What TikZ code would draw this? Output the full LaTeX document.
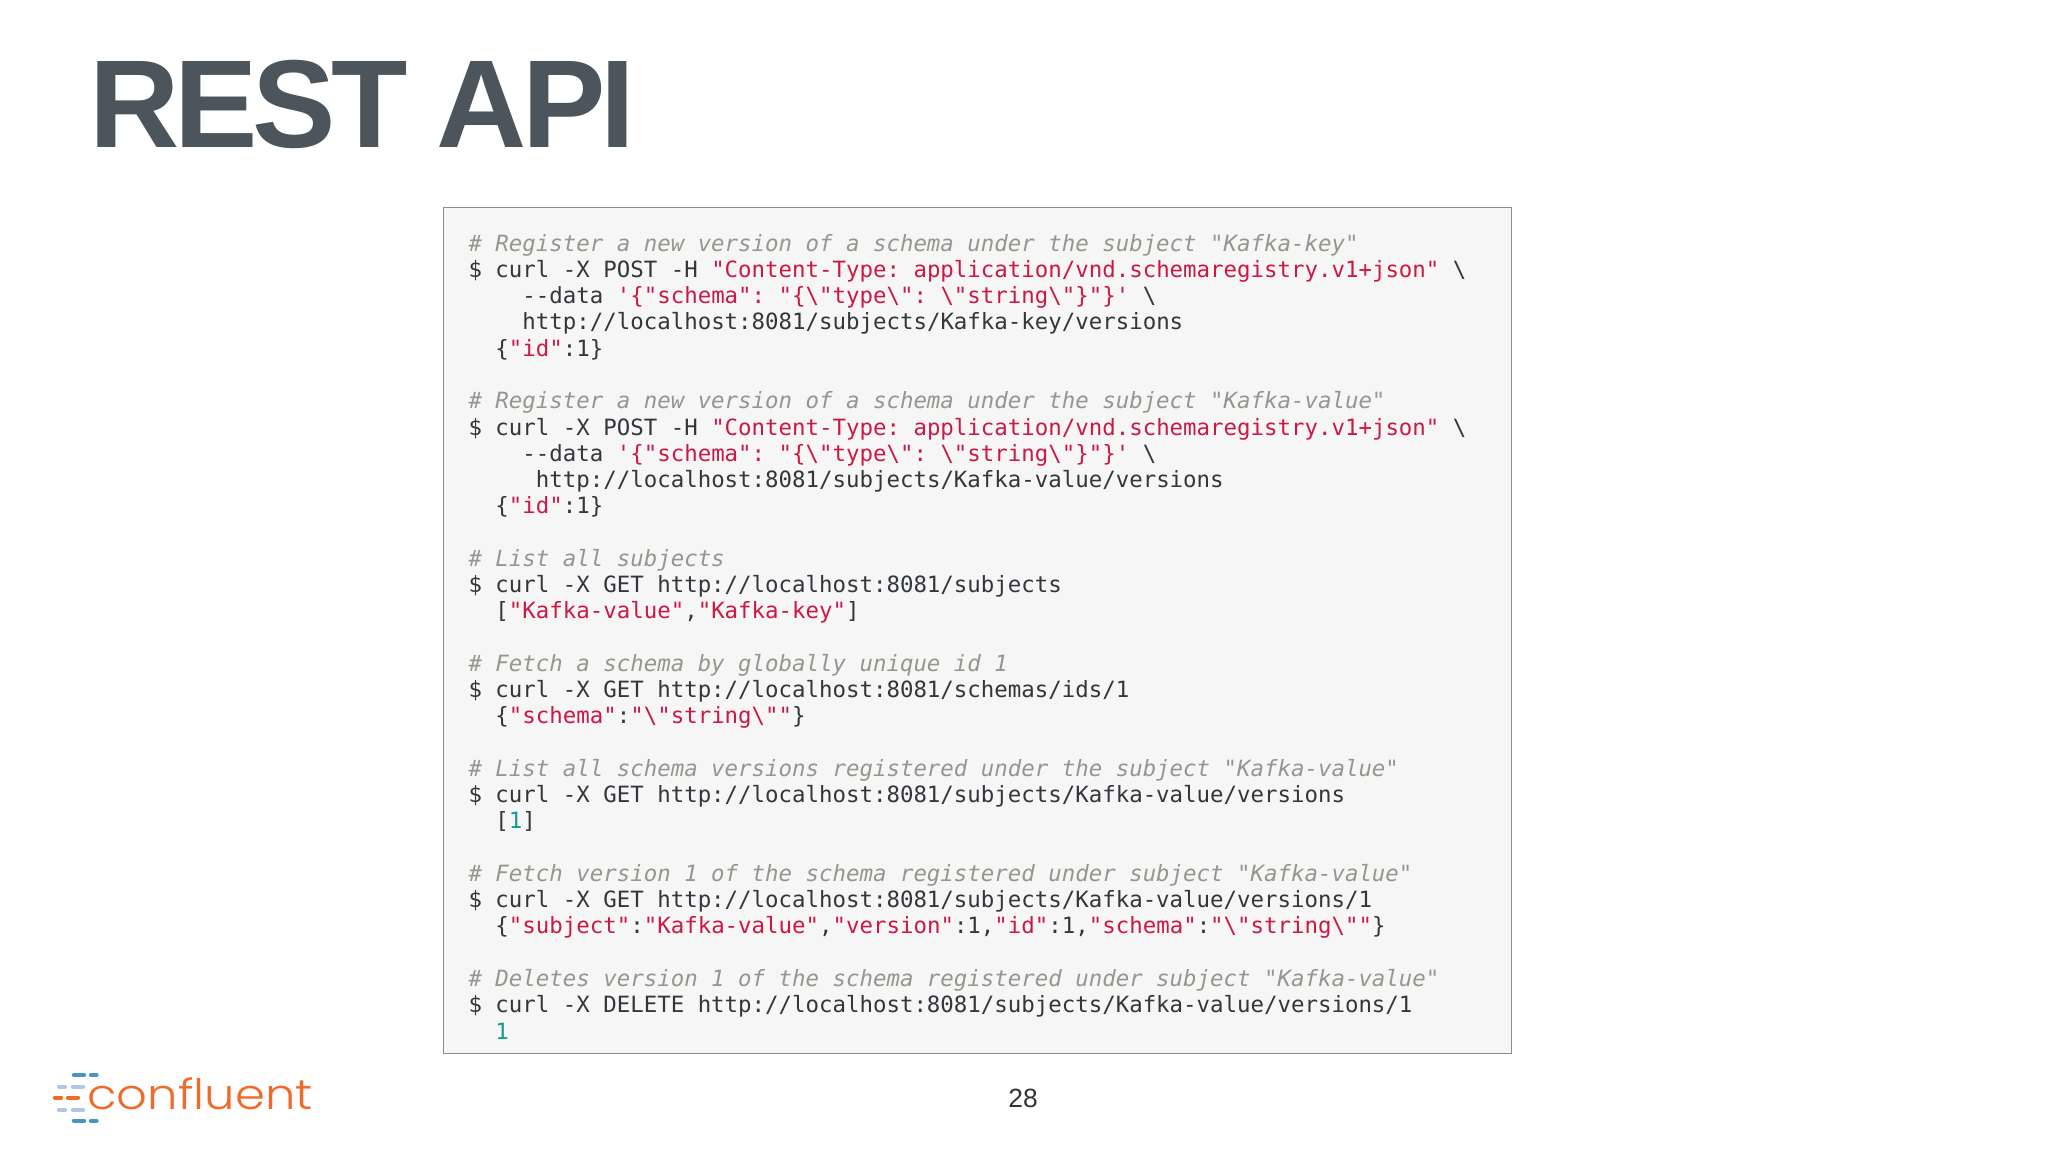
\documentclass[tikz,border=0pt]{standalone}
\usepackage{fontspec}
\usepackage{graphicx}
\setmainfont{Liberation Sans}
\newfontfamily\codefont{DejaVu Sans Mono}
\newfontfamily\titlefont[LetterSpace=-4.1]{Liberation Sans Bold}
\newfontfamily\logofont{Poppins Light}
\definecolor{titlegrey}{HTML}{4D555C}
\definecolor{strred}{HTML}{CC1845}
\definecolor{cmtgrey}{HTML}{96968E}
\definecolor{numteal}{HTML}{149A90}
\definecolor{codeink}{HTML}{33363A}
\definecolor{boxfill}{HTML}{F6F6F7}
\definecolor{boxline}{HTML}{8C8C8E}
\definecolor{logoblue}{HTML}{4A94C4}
\definecolor{logopale}{HTML}{B4C6E2}
\definecolor{logoorange}{HTML}{F26A2A}
\newcommand\rs[1]{\textcolor{strred}{\detokenize{#1}}}
\newcommand\tl[1]{\textcolor{numteal}{#1}}
\newcommand\cm[1]{\textcolor{cmtgrey}{\itshape\#\ \detokenize{#1}}}
\newcommand\tx[1]{\detokenize{#1}}
\newcommand\cl[3]{\node[codeline] (l#1) at ({468.5+#2*13.49},{251.2+(#1-1)*26.26}) {#3};}
\newcommand\bsl{\char92\relax}
\tikzset{
  codeline/.style={anchor=base west,inner sep=0pt,outer sep=0pt,text=codeink,
    font=\codefont\fontsize{11.2pt}{13pt}\selectfont\frenchspacing},
  logodash/.style={line width=2.2pt,line cap=round},
}
\begin{document}
\begin{tikzpicture}[x=0.5pt,y=-0.5pt]
\path[fill=white,use as bounding box] (0,0) rectangle (2048,1152);
\node[anchor=base west,inner sep=0pt,text=titlegrey,font=\titlefont\fontsize{62.5pt}{70pt}\selectfont] (title) at (89,147) {REST API};
\node[draw=boxline,fill=boxfill,line width=0.8pt,inner sep=0pt,minimum width=534pt,minimum height=423pt,anchor=north west] (box) at (442.5,206.5) {};
\cl{1}{0}{\cm{Register a new version of a schema under the subject "Kafka-key"}}
\cl{2}{0}{\$ \tx{curl -X POST -H} \rs{"Content-Type: application/vnd.schemaregistry.v1+json"} \bsl}
\cl{3}{4}{\tx{--data} \rs{'{"schema": "{\"type\": \"string\"}"}'} \bsl}
\cl{4}{4}{\tx{http://localhost:8081/subjects/Kafka-key/versions}}
\cl{5}{2}{\{\rs{"id"}\tx{:1}\}}
\cl{7}{0}{\cm{Register a new version of a schema under the subject "Kafka-value"}}
\cl{8}{0}{\$ \tx{curl -X POST -H} \rs{"Content-Type: application/vnd.schemaregistry.v1+json"} \bsl}
\cl{9}{4}{\tx{--data} \rs{'{"schema": "{\"type\": \"string\"}"}'} \bsl}
\cl{10}{5}{\tx{http://localhost:8081/subjects/Kafka-value/versions}}
\cl{11}{2}{\{\rs{"id"}\tx{:1}\}}
\cl{13}{0}{\cm{List all subjects}}
\cl{14}{0}{\$ \tx{curl -X GET http://localhost:8081/subjects}}
\cl{15}{2}{[\rs{"Kafka-value"},\rs{"Kafka-key"}]}
\cl{17}{0}{\cm{Fetch a schema by globally unique id 1}}
\cl{18}{0}{\$ \tx{curl -X GET http://localhost:8081/schemas/ids/1}}
\cl{19}{2}{\{\rs{"schema"}:\rs{"\"string\""}\}}
\cl{21}{0}{\cm{List all schema versions registered under the subject "Kafka-value"}}
\cl{22}{0}{\$ \tx{curl -X GET http://localhost:8081/subjects/Kafka-value/versions}}
\cl{23}{2}{[\tl{1}]}
\cl{25}{0}{\cm{Fetch version 1 of the schema registered under subject "Kafka-value"}}
\cl{26}{0}{\$ \tx{curl -X GET http://localhost:8081/subjects/Kafka-value/versions/1}}
\cl{27}{2}{\{\rs{"subject"}:\rs{"Kafka-value"},\rs{"version"}:1,\rs{"id"}:1,\rs{"schema"}:\rs{"\"string\""}\}}
\cl{29}{0}{\cm{Deletes version 1 of the schema registered under subject "Kafka-value"}}
\cl{30}{0}{\$ \tx{curl -X DELETE http://localhost:8081/subjects/Kafka-value/versions/1}}
\cl{31}{2}{\tl{1}}
\node[anchor=base,inner sep=0pt,text=black!80,font=\fontsize{13.2pt}{16pt}\selectfont] (page) at (1023,1107) {28};
% logo
\draw[logodash,logoblue] (74,1075) -- (84,1075) (91,1075) -- (96.5,1075);
\draw[logodash,logopale] (59,1086.7) -- (65,1086.7) (73,1086.7) -- (83,1086.7);
\draw[logodash,logoorange] (55,1097.7) -- (61,1097.7) (68,1097.7) -- (78,1097.7);
\draw[logodash,logopale] (59,1109.7) -- (65,1109.7) (73,1109.7) -- (83,1109.7);
\draw[logodash,logoblue] (74,1120.7) -- (84,1120.7) (91,1120.7) -- (96.5,1120.7);
\node[anchor=base west,inner sep=0pt,text=logoorange,font=\logofont\fontsize{21pt}{24pt}\selectfont] (logo) at (87,1109) {\scalebox{1.145}[1]{confluent}};
\end{tikzpicture}
\end{document}
